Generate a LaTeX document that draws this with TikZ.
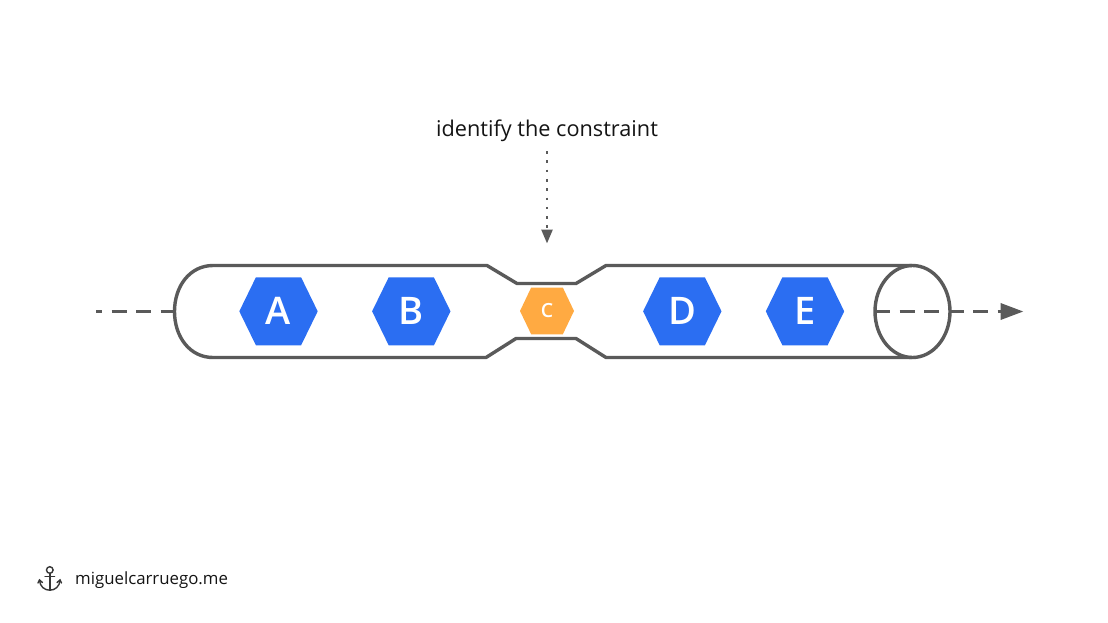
\documentclass[tikz,border=0pt]{standalone}
\usepackage{fontspec}
\setmainfont{Open Sans}
\newfontfamily\hexfont{Open Sans Semibold}
\usetikzlibrary{arrows.meta}
\definecolor{tubegray}{HTML}{5A5A5A}
\definecolor{hexblue}{HTML}{2B6EF2}
\definecolor{hexorange}{HTML}{FFAA42}
\definecolor{inktext}{HTML}{141414}
\newcommand{\hexshape}[8]{%
  \fill[#7] (#2-#4,#3) -- (#2-#5,#3-#6) -- (#2+#5,#3-#6) -- (#2+#4,#3) -- (#2+#5,#3+#6) -- (#2-#5,#3+#6) -- cycle;
  \node[hexlabel] (#1) at (#2,#3) {#8};}
\tikzset{
  hexlabel/.style={text=white,inner sep=0pt,font=\fontsize{38}{38}\hexfont},
  tube/.style={draw=tubegray,line width=3.4pt,line join=round},
  flow/.style={draw=tubegray,line width=3.6pt,dash pattern=on 15pt off 9.5pt},
  callout/.style={draw=tubegray,line width=2.6pt,dash pattern=on 2.6pt off 6.7pt},
  caption/.style={text=inktext,inner sep=0pt,anchor=base},
  iconline/.style={draw=inktext!85,line width=1.4pt,line cap=round}
}
\begin{document}
\begin{tikzpicture}[x=1pt,y=-1pt]
\useasboundingbox (0,0) rectangle (1108,622);
% tube
\draw[tube] (912,265.5) -- (606,265.5) -- (576,283.5) -- (517,283.5) -- (487,265.5) -- (213,265.5)
  .. controls (190,265.5) and (174.5,286) .. (174.5,311.5)
  .. controls (174.5,337) and (190,357.5) .. (213,357.5)
  -- (486,357.5) -- (516,338.5) -- (576,338.5) -- (606,357.5) -- (912,357.5);
\draw[tube] (912.5,311.5) ellipse [x radius=37.5,y radius=46];
% hexagons
\hexshape{a}{278.5}{311.3}{39.2}{22.6}{34}{hexblue}{A}
\hexshape{b}{411.3}{311.3}{39.2}{22.6}{34}{hexblue}{B}
\hexshape{d}{682.3}{311.3}{39.2}{22.6}{34}{hexblue}{D}
\hexshape{e}{805}{311.3}{39.2}{22.6}{34}{hexblue}{E}
\fill[hexorange] (520,311) -- (531.2,287.5) -- (562.8,287.5) -- (574,311) -- (562.8,334.3) -- (531.2,334.3) -- cycle;
\node[text=white,inner sep=0pt,font=\fontsize{19.5}{19.5}\hexfont] (c) at (547,311) {C};
% flow
\coordinate (inL) at (96,311.5);
\coordinate (tubeL) at (174.5,311.5);
\coordinate (tubeR) at (875,311.5);
\coordinate (tipR) at (1023.5,311.5);
\draw[flow,dash phase=9pt] (inL) -- (tubeL);
\draw[flow,-{Triangle[length=23pt,width=16pt]}] (tubeR) -- (tipR);
% callout
\node[caption,font=\fontsize{21.7}{21.7}\selectfont] (lab) at (547,136.5) {identify the constraint};
\coordinate (dotTop) at (547,151);
\coordinate (dotTip) at (547,243.5);
\draw[callout,-{Triangle[length=14pt,width=11pt]}] (dotTop) -- (dotTip);
% anchor icon
\draw[iconline] (49.8,570) circle (3.3);
\draw[iconline] (49.8,573.3) -- (49.8,590.2);
\draw[iconline] (45,576.5) -- (54.6,576.5);
\draw[iconline] (39.5,580) .. controls (39.8,586.5) and (44.5,590.2) .. (49.8,590.2) .. controls (55,590.2) and (59.8,586.5) .. (60,580);
\draw[iconline] (38,583) -- (39.5,580) -- (42.5,582.5);
\draw[iconline] (57,582.5) -- (60,580) -- (61.5,583);
\node[caption,anchor=base west,font=\fontsize{16.8}{16.8}\selectfont] (site) at (75,584) {miguelcarruego.me};
\end{tikzpicture}
\end{document}
